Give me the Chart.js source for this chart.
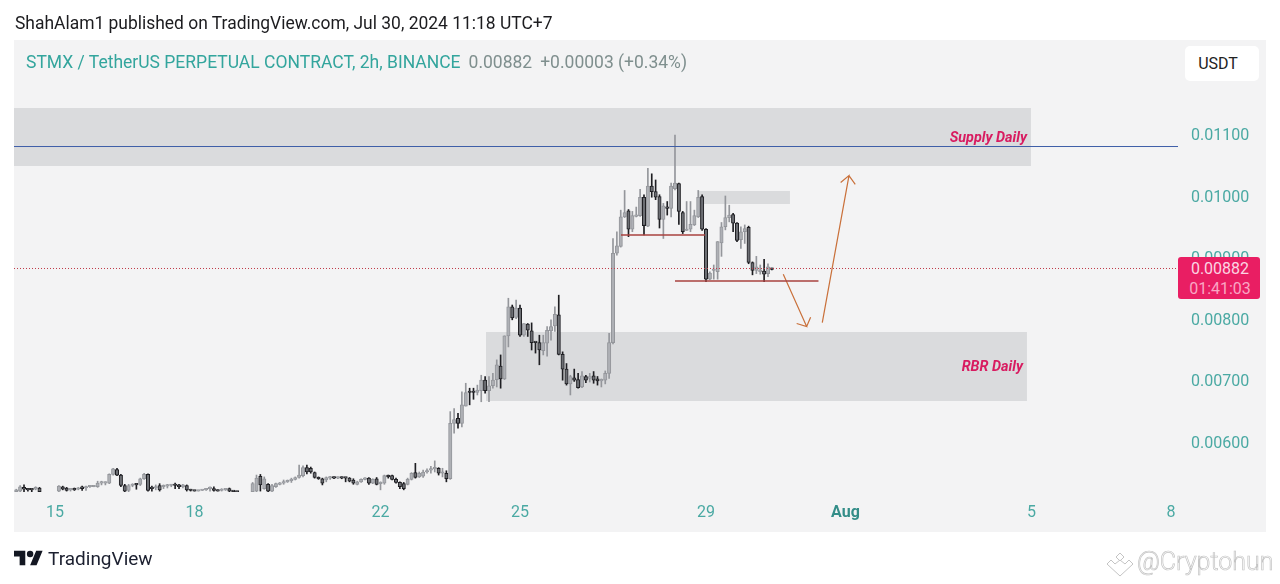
<!DOCTYPE html>
<html>
<head>
<meta charset="utf-8">
<script src="https://cdn.jsdelivr.net/npm/chart.js@4"></script>
<style>
html, body { margin: 0; padding: 0; background: #fff; }
body { width: 1280px; height: 584px; position: relative; overflow: hidden; font-family: Roboto, sans-serif; }
div, canvas, svg { position: absolute; }
#panel { left: 14px; top: 40px; width: 1252px; height: 492px; background: #f3f3f4; }
#chart { left: 0; top: 0; }
#published { left: 15px; top: 13px; font-size: 17.45px; line-height: 20px; color: #1c1c1f; white-space: nowrap; }
#symbol { left: 26px; top: 52px; font-size: 17.5px; line-height: 20px; color: #33a59d; white-space: nowrap; }
#symbol span { color: #7f8f8e; margin-left: 8px; }
#unit { left: 1185px; top: 46px; width: 66px; height: 35px; line-height: 35px; padding-right: 8px; background: #fff; border-radius: 5px; text-align: center; font-size: 16px; color: #222; }
#tag { left: 1178px; top: 257px; width: 80px; height: 40px; background: #e91e63; border-radius: 3px; font-size: 16px; line-height: 20px; text-align: center; color: #fbd5e2; padding: 2px 0 0 2px; }
#tag span { color: #f9a6c3; }
#brand { left: 48px; top: 548px; font-size: 19px; line-height: 22px; color: #1c2030; }
#logo { left: 14px; top: 549px; }
#mark { left: 1106px; top: 551px; }
#handle { left: 1137px; top: 547px; font-size: 25px; line-height: 30px; font-weight: 300; color: #fff; -webkit-text-stroke: 0.7px #c4c4c4; white-space: nowrap; }
</style>
</head>
<body>
<div id="panel"></div>
<canvas id="chart" width="1280" height="584"></canvas>
<div id="published">ShahAlam1 published on TradingView.com, Jul 30, 2024 11:18 UTC+7</div>
<div id="symbol">STMX / TetherUS PERPETUAL CONTRACT, 2h, BINANCE<span>0.00882</span><span>+0.00003 (+0.34%)</span></div>
<div id="unit">USDT</div>
<div id="tag">0.00882<br><span>01:41:03</span></div>
<svg id="logo" width="29" height="18" viewBox="0 2 36 22"><path fill="#131722" d="M14 22H7V11H0V4h14v18zM28 22h-8l7.5-18h8L28 22z"/><circle fill="#131722" cx="20" cy="8" r="4"/></svg>
<div id="brand">TradingView</div>
<svg id="mark" width="28" height="26" viewBox="0 0 28 26"><path fill="none" stroke="#c4c4c4" d="M14 2l4 4-4 4-4-4zM5 9l4 4 5-4 5 4 4-4 4 4-13 12L1 13z"/></svg>
<div id="handle">@Cryptohun</div>

<script>
// 2h candles, first one is Jul 14 04:00, last is Jul 30 10:00
const firstDay = 14 + 2 / 12;

const opens = [
    0.00521,0.00522,0.00528,0.00525,0.00525,0.00525,0.00527,0.00515,0.00514,0.00512,
    0.00513,0.00522,0.00529,0.00527,0.00524,0.00525,0.00525,0.00529,0.00527,0.00529,
    0.00529,0.00529,0.00535,0.00535,0.00535,0.00549,0.00557,0.00548,0.00531,0.00523,
    0.00531,0.00533,0.00533,0.00542,0.00549,0.00528,0.00527,0.00531,0.00529,0.00530,
    0.00531,0.00532,0.00532,0.00529,0.00531,0.00524,0.00523,0.00522,0.00523,0.00524,
    0.00526,0.00526,0.00523,0.00523,0.00524,0.00526,0.00522,0.00521,0.00518,0.00516,
    0.00515,0.00521,0.00522,0.00546,0.00526,0.00533,0.00522,0.00529,0.00533,0.00535,
    0.00537,0.00539,0.00541,0.00544,0.00547,0.00560,0.00559,0.00552,0.00544,0.00542,
    0.00540,0.00543,0.00544,0.00543,0.00544,0.00544,0.00543,0.00540,0.00533,0.00537,
    0.00541,0.00543,0.00535,0.00542,0.00534,0.00535,0.00548,0.00547,0.00541,0.00536,
    0.00534,0.00533,0.00541,0.00552,0.00545,0.00546,0.00553,0.00556,0.00558,0.00559,
    0.00551,0.00551,0.00542,0.00632,0.00640,0.00632,0.00660,0.00683,0.00683,0.00682,
    0.00685,0.00702,0.00685,0.00693,0.00703,0.00725,0.00704,0.00774,0.00821,0.00804,
    0.00819,0.00775,0.00793,0.00782,0.00764,0.00763,0.00750,0.00762,0.00782,0.00790,
    0.00808,0.00744,0.00720,0.00696,0.00706,0.00703,0.00691,0.00708,0.00705,0.00709,
    0.00704,0.00701,0.00702,0.00713,0.00763,0.00908,0.00919,0.00967,0.00977,0.00947,
    0.00968,0.00969,0.00999,0.00952,0.01017,0.01008,0.01000,0.00963,0.00982,0.00981,
    0.01013,0.01021,0.00974,0.00945,0.00947,0.00954,0.00967,0.01000,0.00947,0.00866,
    0.00880,0.00878,0.00925,0.00951,0.00966,0.00971,0.00957,0.00930,0.00943,0.00950,
    0.00893,0.00880,0.00878,0.00879,0.00875,0.00883
];
const highs = [
    0.00525,0.00531,0.00532,0.00526,0.00525,0.00529,0.00528,0.00516,0.00515,0.00514,
    0.00517,0.00531,0.00530,0.00528,0.00526,0.00527,0.00528,0.00530,0.00530,0.00531,
    0.00531,0.00538,0.00538,0.00537,0.00550,0.00559,0.00559,0.00549,0.00533,0.00533,
    0.00534,0.00534,0.00543,0.00551,0.00550,0.00530,0.00532,0.00534,0.00532,0.00533,
    0.00533,0.00535,0.00533,0.00533,0.00532,0.00525,0.00523,0.00523,0.00524,0.00526,
    0.00529,0.00529,0.00524,0.00526,0.00526,0.00527,0.00522,0.00521,0.00519,0.00517,
    0.00518,0.00536,0.00548,0.00549,0.00545,0.00534,0.00533,0.00535,0.00536,0.00540,
    0.00540,0.00543,0.00545,0.00564,0.00563,0.00564,0.00561,0.00553,0.00545,0.00543,
    0.00545,0.00546,0.00545,0.00545,0.00545,0.00544,0.00544,0.00542,0.00538,0.00542,
    0.00544,0.00544,0.00542,0.00544,0.00537,0.00548,0.00548,0.00548,0.00543,0.00537,
    0.00536,0.00543,0.00552,0.00567,0.00553,0.00556,0.00558,0.00562,0.00571,0.00560,
    0.00559,0.00555,0.00651,0.00656,0.00648,0.00683,0.00697,0.00689,0.00689,0.00694,
    0.00710,0.00708,0.00708,0.00713,0.00735,0.00743,0.00774,0.00835,0.00824,0.00832,
    0.00824,0.00794,0.00794,0.00795,0.00764,0.00775,0.00775,0.00789,0.00800,0.00821,
    0.00840,0.00748,0.00729,0.00710,0.00720,0.00713,0.00716,0.00710,0.00713,0.00716,
    0.00708,0.00704,0.00717,0.00778,0.00932,0.00943,0.00978,0.01010,0.00979,0.00976,
    0.00983,0.01012,0.01003,0.01046,0.01037,0.01027,0.01003,0.00989,0.00992,0.01022,
    0.01100,0.01022,0.00976,0.00992,0.00992,0.00978,0.01010,0.01003,0.00948,0.00878,
    0.00889,0.00927,0.00958,0.01001,0.00986,0.00973,0.00958,0.00951,0.00954,0.00952,
    0.00894,0.00903,0.00889,0.00898,0.00891,0.00884
];
const lows = [
    0.00521,0.00521,0.00521,0.00522,0.00521,0.00524,0.00520,0.00513,0.00511,0.00510,
    0.00512,0.00521,0.00524,0.00522,0.00522,0.00523,0.00524,0.00523,0.00523,0.00528,
    0.00529,0.00528,0.00532,0.00532,0.00534,0.00548,0.00547,0.00529,0.00520,0.00521,
    0.00529,0.00525,0.00531,0.00541,0.00522,0.00522,0.00524,0.00522,0.00526,0.00527,
    0.00529,0.00526,0.00526,0.00527,0.00522,0.00522,0.00522,0.00522,0.00523,0.00523,
    0.00522,0.00522,0.00522,0.00522,0.00523,0.00521,0.00521,0.00519,0.00515,0.00514,
    0.00514,0.00520,0.00521,0.00522,0.00525,0.00520,0.00521,0.00528,0.00532,0.00533,
    0.00536,0.00536,0.00540,0.00543,0.00545,0.00550,0.00551,0.00543,0.00541,0.00532,
    0.00537,0.00541,0.00542,0.00542,0.00542,0.00537,0.00537,0.00533,0.00532,0.00536,
    0.00540,0.00533,0.00534,0.00532,0.00524,0.00533,0.00543,0.00540,0.00535,0.00526,
    0.00524,0.00532,0.00540,0.00543,0.00544,0.00544,0.00551,0.00551,0.00553,0.00548,
    0.00545,0.00537,0.00541,0.00616,0.00624,0.00626,0.00660,0.00662,0.00671,0.00678,
    0.00667,0.00681,0.00667,0.00689,0.00691,0.00689,0.00703,0.00756,0.00800,0.00802,
    0.00773,0.00773,0.00773,0.00751,0.00746,0.00727,0.00743,0.00741,0.00767,0.00781,
    0.00743,0.00702,0.00694,0.00678,0.00700,0.00689,0.00690,0.00698,0.00699,0.00697,
    0.00694,0.00691,0.00696,0.00705,0.00761,0.00905,0.00918,0.00966,0.00935,0.00943,
    0.00967,0.00968,0.00938,0.00951,0.00999,0.00995,0.00949,0.00932,0.00970,0.00967,
    0.01011,0.00955,0.00940,0.00945,0.00943,0.00953,0.00966,0.00945,0.00862,0.00865,
    0.00866,0.00866,0.00903,0.00946,0.00959,0.00943,0.00927,0.00916,0.00924,0.00891,
    0.00873,0.00875,0.00874,0.00862,0.00870,0.00881
];
const closes = [
    0.00524,0.00529,0.00525,0.00524,0.00524,0.00528,0.00521,0.00514,0.00512,0.00513,
    0.00516,0.00530,0.00525,0.00523,0.00525,0.00524,0.00526,0.00526,0.00529,0.00530,
    0.00530,0.00535,0.00536,0.00536,0.00549,0.00558,0.00548,0.00531,0.00522,0.00531,
    0.00533,0.00532,0.00542,0.00549,0.00523,0.00526,0.00528,0.00524,0.00531,0.00531,
    0.00532,0.00531,0.00529,0.00532,0.00524,0.00523,0.00522,0.00523,0.00524,0.00525,
    0.00527,0.00523,0.00522,0.00525,0.00525,0.00522,0.00521,0.00520,0.00516,0.00515,
    0.00517,0.00534,0.00543,0.00532,0.00542,0.00522,0.00531,0.00534,0.00535,0.00537,
    0.00539,0.00541,0.00544,0.00548,0.00560,0.00553,0.00553,0.00544,0.00542,0.00535,
    0.00544,0.00545,0.00543,0.00544,0.00543,0.00543,0.00538,0.00535,0.00537,0.00541,
    0.00543,0.00535,0.00541,0.00533,0.00535,0.00547,0.00545,0.00541,0.00536,0.00529,
    0.00526,0.00541,0.00551,0.00544,0.00551,0.00553,0.00555,0.00558,0.00559,0.00551,
    0.00552,0.00542,0.00632,0.00638,0.00632,0.00662,0.00682,0.00682,0.00682,0.00686,
    0.00702,0.00685,0.00693,0.00702,0.00727,0.00704,0.00774,0.00821,0.00803,0.00819,
    0.00775,0.00794,0.00783,0.00763,0.00763,0.00751,0.00763,0.00783,0.00789,0.00809,
    0.00744,0.00720,0.00696,0.00708,0.00702,0.00690,0.00709,0.00702,0.00708,0.00702,
    0.00701,0.00702,0.00713,0.00763,0.00908,0.00920,0.00967,0.00974,0.00947,0.00969,
    0.00970,0.00999,0.00953,0.01017,0.01008,0.00999,0.00963,0.00985,0.00981,0.01017,
    0.01022,0.00976,0.00943,0.00947,0.00955,0.00969,0.00999,0.00947,0.00866,0.00876,
    0.00881,0.00927,0.00951,0.00966,0.00970,0.00957,0.00929,0.00943,0.00948,0.00893,
    0.00880,0.00886,0.00881,0.00874,0.00886,0.00882
];

// axis
const tickDays = [15, 18, 22, 25, 29, 32, 36, 39];
const tickLabels = ['15', '18', '22', '25', '29', 'Aug', '5', '8'];
const priceTicks = [0.006, 0.007, 0.008, 0.009, 0.010, 0.011];
const priceMin = 0.005205;
const priceMax = 0.012542;

// drawings on the chart, x in days, y in price
const supplyDays = [14.118, 35.989];
const supplyPrices = [0.011438, 0.010497];
const rbrDays = [24.269, 35.903];
const rbrPrices = [0.007802, 0.006682];
const smallZoneDays = [28.828, 30.806];
const smallZonePrices = [0.01009, 0.00988];
const blueLineDays = [14.118, 39.151];
const blueLinePrice = 0.010813;
const lastPriceDays = [14.118, 39.151];
const lastPrice = 0.008833;
const upperLevelDays = [27.172, 28.978];
const upperLevelPrice = 0.009377;
const lowerLevelDays = [28.333, 31.419];
const lowerLevelPrice = 0.00863;
const arrowDownDays = [30.662, 31.165, 30.95, 31.165, 31.25];
const arrowDownPrices = [0.00874, 0.00789, 0.00794, 0.00789, 0.00804];
const arrowUpDays = [31.501, 32.075, 31.896, 32.075, 32.21];
const arrowUpPrices = [0.007953, 0.01034, 0.01023, 0.01034, 0.0102];

const zoneLabels = [
    { text: 'Supply Daily', day: 35.903, price: 0.010952 },
    { text: 'RBR Daily', day: 35.817, price: 0.00723 },
];

const upBody = '#aeb0b5', upEdge = '#94969b';
const downBody = '#6c6e73', downEdge = '#1e1e22';

const candleDays = opens.map((o, i) => firstDay + i / 12);
const isUp = opens.map((o, i) => closes[i] >= o);

function flatLine(days, price, color, width, dash) {
    return {
        type: 'line',
        data: days.map(d => ({ x: d, y: price })),
        borderColor: color,
        borderWidth: width,
        borderDash: dash || [],
        pointRadius: 0,
        tension: 0,
        order: 0,
    };
}

function zone(days, prices) {
    return {
        type: 'line',
        data: days.map(d => ({ x: d, y: prices[0] })),
        borderWidth: 0,
        pointRadius: 0,
        fill: { value: prices[1] },
        backgroundColor: '#dadbdd',
        order: 5,
    };
}

function arrow(days, prices) {
    return {
        type: 'line',
        data: days.map((d, i) => ({ x: d, y: prices[i] })),
        borderColor: '#c9703a',
        borderWidth: 1.2,
        pointRadius: 0,
        tension: 0,
        order: 0,
    };
}

// candles under the bottom of the chart stay off it, bars would get pinned to the edge
function candleBar(i, from, to) {
    return { x: candleDays[i], y: highs[i] < priceMin ? null : [from, to] };
}

const labelPlugin = {
    id: 'zoneLabels',
    afterDatasetsDraw(chart) {
        const ctx = chart.ctx;
        ctx.save();
        ctx.font = 'italic bold 14.4px Roboto';
        ctx.fillStyle = '#d81b60';
        ctx.textAlign = 'right';
        ctx.textBaseline = 'middle';
        zoneLabels.forEach(l => {
            ctx.fillText(l.text, chart.scales.x.getPixelForValue(l.day), chart.scales.y.getPixelForValue(l.price));
        });
        ctx.restore();
    }
};

new Chart(document.getElementById('chart'), {
    type: 'bar',
    plugins: [labelPlugin],
    data: {
        datasets: [
            zone(supplyDays, supplyPrices),
            zone(rbrDays, rbrPrices),
            zone(smallZoneDays, smallZonePrices),
            {
                // wicks
                data: candleDays.map((d, i) => candleBar(i, lows[i], highs[i])),
                backgroundColor: isUp.map(u => u ? upEdge : downEdge),
                barThickness: 1,
                grouped: false,
                order: 3,
            },
            {
                // bodies
                data: candleDays.map((d, i) => candleBar(i, opens[i], closes[i])),
                backgroundColor: isUp.map(u => u ? upBody : downBody),
                borderColor: isUp.map(u => u ? upEdge : downEdge),
                borderWidth: 1,
                borderSkipped: false,
                barThickness: 3.4,
                minBarLength: 1.5,
                grouped: false,
                order: 2,
            },
            flatLine(lastPriceDays, lastPrice, '#c03a48', 1, [1, 2]),
            flatLine(blueLineDays, blueLinePrice, '#3f5fa8', 1),
            flatLine(upperLevelDays, upperLevelPrice, '#a8423f', 1.6),
            flatLine(lowerLevelDays, lowerLevelPrice, '#a8423f', 1.6),
            arrow(arrowDownDays, arrowDownPrices),
            arrow(arrowUpDays, arrowUpPrices),
        ]
    },
    options: {
        responsive: false,
        animation: false,
        events: [],
        layout: { padding: { left: 14, top: 40, right: 14, bottom: 52 } },
        plugins: { legend: { display: false }, tooltip: { enabled: false } },
        scales: {
            x: {
                type: 'linear',
                offset: false,
                min: 14.118,
                max: 39.151,
                grid: { display: false, drawTicks: false },
                border: { display: false },
                afterBuildTicks(scale) { scale.ticks = tickDays.map(d => ({ value: d })); },
                afterFit(scale) { scale.height = 40; },
                ticks: {
                    autoSkip: false,
                    maxRotation: 0,
                    padding: 11,
                    color(c) { return c.tick.value === 32 ? '#338d88' : '#4aa9a3'; },
                    font(c) {
                        return c.tick && c.tick.value === 32
                            ? { family: 'Roboto', size: 16, weight: 'bold' }
                            : { family: 'Roboto', size: 16 };
                    },
                    callback(v) { return tickLabels[tickDays.indexOf(v)]; },
                }
            },
            y: {
                position: 'right',
                min: priceMin,
                max: priceMax,
                grid: { display: false, drawTicks: false },
                border: { display: false },
                afterBuildTicks(scale) { scale.ticks = priceTicks.map(p => ({ value: p })); },
                afterFit(scale) { scale.width = 88; },
                ticks: {
                    padding: 13,
                    labelOffset: 1,
                    color: '#4aa9a3',
                    font: { family: 'Roboto', size: 16 },
                    callback(v) { return v.toFixed(5); },
                }
            }
        }
    }
});
</script>
</body>
</html>
